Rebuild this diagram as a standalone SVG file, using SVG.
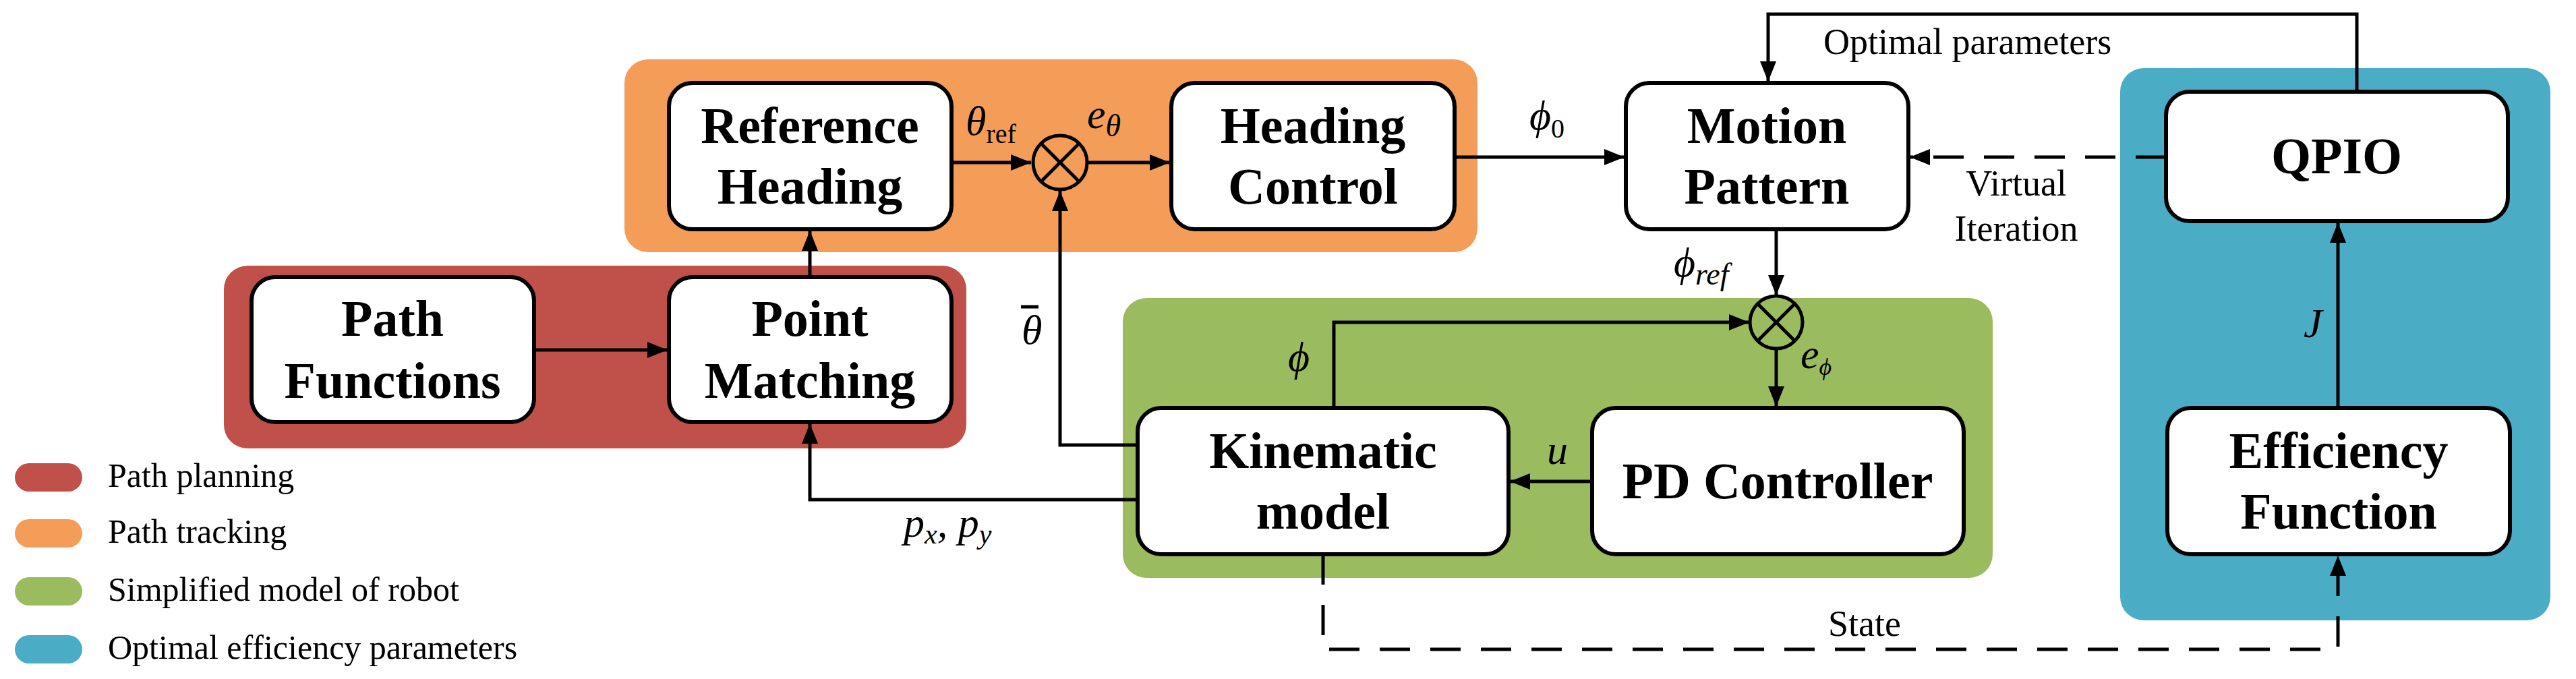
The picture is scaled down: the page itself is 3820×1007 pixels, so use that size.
<svg xmlns="http://www.w3.org/2000/svg" width="3820" height="1007" viewBox="0 0 3820 1007">
<defs>
<marker id="ah" markerWidth="10" markerHeight="8" refX="10" refY="4" orient="auto" markerUnits="userSpaceOnUse" viewBox="0 0 10 8"><path d="M0,0 L10,4 L0,8 z" fill="#000"/></marker>
<marker id="a" viewBox="0 0 30 24" refX="30" refY="12" markerWidth="30" markerHeight="24" orient="auto" markerUnits="userSpaceOnUse"><path d="M0,0 L30,12 L0,24 z" fill="#000"/></marker>
<style>
.box{fill:#fff;stroke:#000;stroke-width:6}
.t{font-family:"Liberation Serif",serif;font-weight:bold;font-size:76px;text-anchor:middle}
.l{font-family:"Liberation Serif",serif;font-size:54px}
.m{font-family:"Liberation Serif",serif;font-style:italic;font-size:62px}
.c{fill:none;stroke:#000;stroke-width:5}
.d{fill:none;stroke:#000;stroke-width:5;stroke-dasharray:45,30}
.lg{font-family:"Liberation Serif",serif;font-size:50px}
</style>
</defs>
<rect width="3820" height="1007" fill="#fff"/>
<g id="groups">
<rect x="926" y="88" width="1265" height="286" rx="35" fill="#f49d59"/>
<rect x="332" y="394" width="1101" height="271" rx="35" fill="#c0504a"/>
<rect x="1665" y="442" width="1290" height="415" rx="35" fill="#9bbb5f"/>
<rect x="3144" y="101" width="638" height="819" rx="35" fill="#4bacc6"/>
</g>
<g id="connectors">
<path class="c" d="M792,519 H990" marker-end="url(#a)"/>
<path class="c" d="M1201,411 V342" marker-end="url(#a)"/>
<path class="c" d="M1411,241 H1529" marker-end="url(#a)"/>
<path class="c" d="M1613,241 H1735" marker-end="url(#a)"/>
<path class="c" d="M1687,660 H1572 V283" marker-end="url(#a)"/>
<path class="c" d="M1687,741 H1201 V628" marker-end="url(#a)"/>
<path class="c" d="M2157,233 H2409" marker-end="url(#a)"/>
<path class="c" d="M3495,136 V21 H2622 V121" marker-end="url(#a)"/>
<path class="d" d="M3212,233 H2832" marker-end="url(#a)"/>
<path class="c" d="M2634,340 V438" marker-end="url(#a)"/>
<path class="c" d="M1978,605 V478 H2594" marker-end="url(#a)"/>
<path class="c" d="M2634,518 V603" marker-end="url(#a)"/>
<path class="c" d="M2361,714 H2239" marker-end="url(#a)"/>
<path class="d" d="M1962,822 V963 H3467 V824" marker-end="url(#a)"/>
<path class="c" d="M3467,605 V330" marker-end="url(#a)"/>
<g class="c">
<circle cx="1572" cy="241" r="40"/>
<path d="M1544,213 L1600,269 M1600,213 L1544,269"/>
<circle cx="2634" cy="478" r="39"/>
<path d="M2606,450 L2662,506 M2662,450 L2606,506"/>
</g>
</g>
<g id="pathfunctions"><rect class="box" x="373" y="411" width="419" height="215" rx="35"/><text class="t" x="582" y="498">Path</text><text class="t" x="582" y="590">Functions</text></g>
<g id="pointmatching"><rect class="box" x="992" y="411" width="419" height="215" rx="35"/><text class="t" x="1201" y="498">Point</text><text class="t" x="1201" y="590">Matching</text></g>
<g id="refheading"><rect class="box" x="992" y="123" width="419" height="217" rx="35"/><text class="t" x="1201" y="212">Reference</text><text class="t" x="1201" y="302">Heading</text></g>
<g id="headingcontrol"><rect class="box" x="1737" y="123" width="420" height="217" rx="35"/><text class="t" x="1947" y="212">Heading</text><text class="t" x="1947" y="302">Control</text></g>
<g id="motionpattern"><rect class="box" x="2411" y="123" width="419" height="217" rx="35"/><text class="t" x="2620" y="212">Motion</text><text class="t" x="2620" y="302">Pattern</text></g>
<g id="qpio"><rect class="box" x="3212" y="136" width="507" height="192" rx="35"/><text class="t" x="3465" y="257">QPIO</text></g>
<g id="kinematic"><rect class="box" x="1687" y="605" width="550" height="217" rx="35"/><text class="t" x="1962" y="694">Kinematic</text><text class="t" x="1962" y="784">model</text></g>
<g id="pdcontroller"><rect class="box" x="2361" y="605" width="551" height="217" rx="35"/><text class="t" x="2636" y="739">PD Controller</text></g>
<g id="efficiency"><rect class="box" x="3214" y="605" width="508" height="217" rx="35"/><text class="t" x="3468" y="694">Efficiency</text><text class="t" x="3468" y="784">Function</text></g>
<g id="labels">
<text class="m" x="1432" y="200">θ<tspan font-style="normal" font-size="40" dy="12">ref</tspan></text>
<text class="m" x="1612" y="190">e<tspan font-size="46" dy="12">θ</tspan></text>
<text class="m" x="1515" y="510">θ</text>
<path d="M1514,455 H1540" stroke="#000" stroke-width="5"/>
<text class="m" x="1340" y="796">p<tspan font-size="42" dy="10">x</tspan><tspan dy="-10">, p</tspan><tspan font-size="42" dy="10">y</tspan></text>
<text class="m" x="2268" y="192">ϕ<tspan font-style="normal" font-size="40" dy="12">0</tspan></text>
<text class="m" x="2482" y="410">ϕ<tspan font-size="46" dy="12">ref</tspan></text>
<text class="m" x="1910" y="550">ϕ</text>
<text class="m" x="2670" y="546">e<tspan font-size="36" dy="10">ϕ</tspan></text>
<text class="m" x="2294" y="688">u</text>
<text class="m" x="3416" y="500" font-size="40">J</text>
<text class="l" x="2704" y="80">Optimal parameters</text>
<text class="l" x="2990" y="290" text-anchor="middle">Virtual</text>
<text class="l" x="2990" y="357" text-anchor="middle">Iteration</text>
<text class="l" x="2711" y="943">State</text>
</g>
<g id="legend">
<rect x="22" y="687" width="100" height="42" rx="21" fill="#c0504a"/>
<rect x="22" y="770" width="100" height="42" rx="21" fill="#f49d59"/>
<rect x="22" y="856" width="100" height="42" rx="21" fill="#9bbb5f"/>
<rect x="22" y="942" width="100" height="42" rx="21" fill="#4bacc6"/>
<text class="lg" x="160" y="722">Path planning</text>
<text class="lg" x="160" y="805">Path tracking</text>
<text class="lg" x="160" y="891">Simplified model of robot</text>
<text class="lg" x="160" y="977">Optimal efficiency parameters</text>
</g>
</svg>
